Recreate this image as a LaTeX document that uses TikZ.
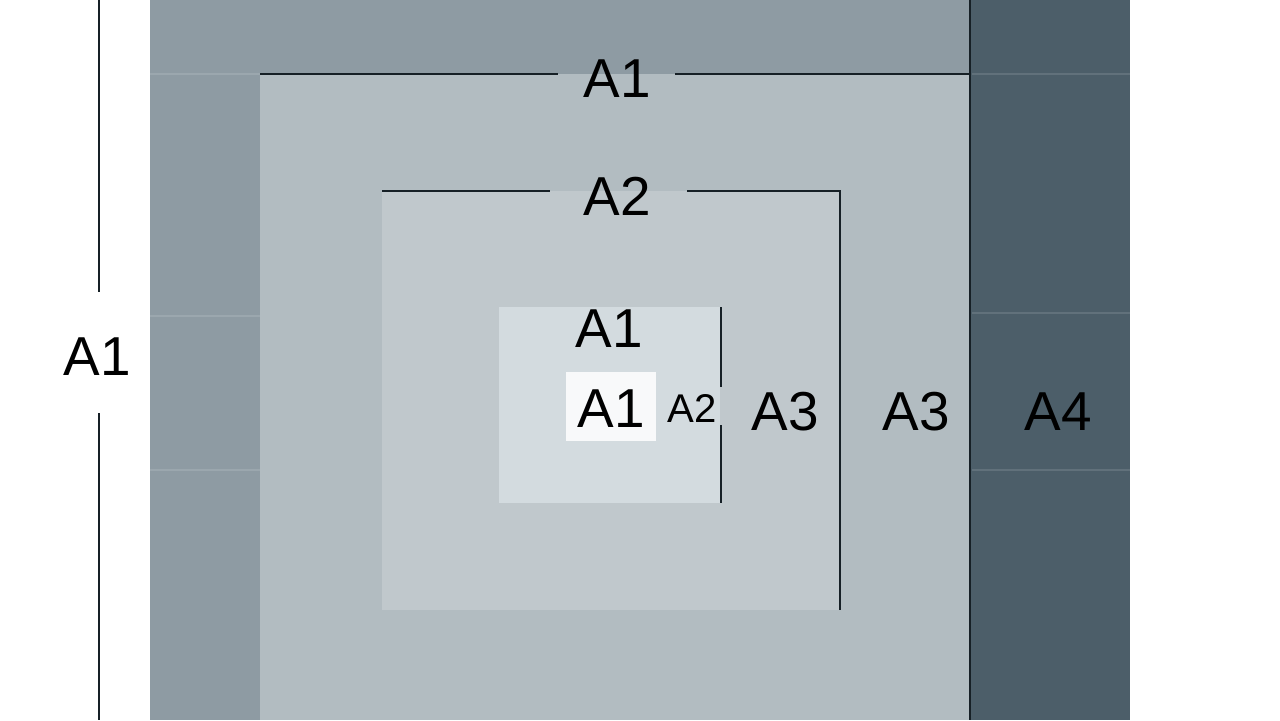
\documentclass[tikz,border=0pt]{standalone}
\usepackage{fontspec}
\setmainfont{Liberation Sans}
\usetikzlibrary{calc}

\definecolor{bandgrey}{RGB}{142,155,163}
\definecolor{banddark}{RGB}{76,94,105}
\definecolor{panelone}{RGB}{178,188,193}
\definecolor{paneltwo}{RGB}{192,200,204}
\definecolor{panelthree}{RGB}{211,219,223}
\definecolor{paperwhite}{RGB}{248,249,250}
\definecolor{inkline}{RGB}{22,32,38}

\tikzset{
	biglabel/.style={anchor=base, inner sep=0pt, font=\fontsize{15.6}{18}\selectfont},
	smalllabel/.style={anchor=base, inner sep=0pt, font=\fontsize{11.4}{14}\selectfont},
	edgeline/.style={line width=0.6pt, color=inkline},
	seamline/.style={line width=0.4pt, color=white, opacity=0.12}
}

\begin{document}
\begin{tikzpicture}[x=0.01cm, y=-0.01cm]
		%%%%% START %%%%%
		
		\useasboundingbox[fill=white] (0, 0) rectangle (1280, 720);
		
		% outer bands
		\fill[bandgrey] (150, 0) rectangle (970, 720);
		\fill[banddark] (970, 0) rectangle (1130, 720);
		\draw[seamline] (150, 74) -- (260, 74);
		\draw[seamline] (150, 316) -- (260, 316);
		\draw[seamline] (150, 470) -- (260, 470);
		\draw[seamline] (972, 74) -- (1130, 74);
		\draw[seamline] (972, 313) -- (1130, 313);
		\draw[seamline] (972, 470) -- (1130, 470);
		
		% nested panels
		\fill[panelone] (260, 74) rectangle (970, 720);
		\fill[paneltwo] (382, 191) rectangle (840, 610);
		\fill[panelthree] (499, 307) rectangle (720, 503);
		\fill[paperwhite] (566, 372) rectangle (656, 441);
		
		% labels
		\node[biglabel] (outerLeft) at (97, 375) {A1};
		\node[biglabel] (topOne) at (617, 97) {A1};
		\node[biglabel] (topTwo) at (617, 215) {A2};
		\node[biglabel] (innerTop) at (609, 347) {A1};
		\node[biglabel] (innerBox) at (611, 427) {A1};
		\node[smalllabel] (innerSide) at (692, 422) {A2};
		\node[biglabel] (sideThree) at (785, 430) {A3};
		\node[biglabel] (bandThree) at (916, 430) {A3};
		\node[biglabel] (bandFour) at (1058, 430) {A4};
		
		% edges with gaps
		\draw[edgeline] (99, 0) -- (99, 292);
		\draw[edgeline] (99, 413) -- (99, 720);
		\draw[edgeline] (970, 0) -- (970, 720);
		\draw[edgeline] (260, 74) -- (558, 74);
		\draw[edgeline] (675, 74) -- (970, 74);
		\draw[edgeline] (382, 191) -- (550, 191);
		\draw[edgeline] (687, 191) -- (840, 191) -- (840, 610);
		\draw[edgeline] (721, 307) -- (721, 387);
		\draw[edgeline] (721, 425) -- (721, 503);
		
		%%%%% END %%%%%
	\end{tikzpicture}
\end{document}
